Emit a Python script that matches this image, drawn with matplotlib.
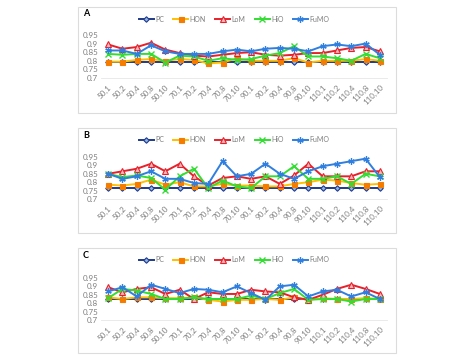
import matplotlib
matplotlib.use("Agg")
import matplotlib.pyplot as plt
from matplotlib.patches import Rectangle

plt.rcParams['font.family'] = ['Lato', 'DejaVu Sans']

categories = ["50,1", "50,2", "50,4", "50,8", "50,10",
              "70,1", "70,2", "70,4", "70,8", "70,10",
              "90,1", "90,2", "90,4", "90,8", "90,10",
              "110,1", "110,2", "110,4", "110,8", "110,10"]
series_names = ["PC", "HON", "LoM", "HiO", "FuMO"]
y_ticks = [0.7, 0.75, 0.8, 0.85, 0.9, 0.95]
y_tick_labels = ["0.7", "0.75", "0.8", "0.85", "0.9", "0.95"]

# panel A
pc_a = [0.795] * 20
hon_a = [0.795, 0.795, 0.805, 0.81, 0.80, 0.81, 0.805, 0.785, 0.79, 0.815,
         0.80, 0.80, 0.80, 0.815, 0.79, 0.80, 0.80, 0.80, 0.81, 0.80]
lom_a = [0.895, 0.87, 0.88, 0.905, 0.865, 0.845, 0.83, 0.825, 0.835, 0.845,
         0.85, 0.835, 0.83, 0.835, 0.845, 0.845, 0.86, 0.875, 0.88, 0.855]
hio_a = [0.84, 0.835, 0.84, 0.84, 0.79, 0.83, 0.825, 0.80, 0.815, 0.805,
         0.81, 0.83, 0.845, 0.885, 0.825, 0.825, 0.815, 0.80, 0.84, 0.815]
fumo_a = [0.86, 0.86, 0.84, 0.89, 0.855, 0.84, 0.84, 0.84, 0.855, 0.865,
          0.855, 0.87, 0.875, 0.87, 0.855, 0.885, 0.895, 0.885, 0.90, 0.835]

# panel B
pc_b = [0.765] * 20
hon_b = [0.785, 0.78, 0.79, 0.815, 0.785, 0.80, 0.775, 0.775, 0.79, 0.78,
         0.78, 0.775, 0.775, 0.79, 0.80, 0.815, 0.81, 0.795, 0.785, 0.79]
lom_b = [0.85, 0.865, 0.88, 0.91, 0.865, 0.91, 0.835, 0.78, 0.825, 0.835,
         0.82, 0.835, 0.79, 0.84, 0.91, 0.835, 0.835, 0.835, 0.865, 0.865]
hio_b = [0.85, 0.83, 0.84, 0.825, 0.755, 0.835, 0.88, 0.765, 0.81, 0.775,
         0.765, 0.835, 0.835, 0.895, 0.82, 0.82, 0.835, 0.79, 0.85, 0.835]
fumo_b = [0.85, 0.82, 0.835, 0.865, 0.82, 0.82, 0.795, 0.79, 0.925, 0.835,
          0.85, 0.91, 0.85, 0.82, 0.865, 0.895, 0.91, 0.925, 0.94, 0.83]

# panel C
pc_c = [0.825] * 20
hon_c = [0.835, 0.825, 0.835, 0.835, 0.83, 0.83, 0.835, 0.82, 0.81, 0.82,
         0.82, 0.825, 0.82, 0.835, 0.82, 0.83, 0.825, 0.825, 0.83, 0.825]
lom_c = [0.895, 0.865, 0.885, 0.895, 0.855, 0.88, 0.825, 0.865, 0.855, 0.855,
         0.88, 0.87, 0.865, 0.835, 0.82, 0.85, 0.885, 0.91, 0.885, 0.855]
hio_c = [0.83, 0.885, 0.875, 0.855, 0.825, 0.825, 0.835, 0.825, 0.825, 0.825,
         0.845, 0.825, 0.86, 0.885, 0.82, 0.825, 0.825, 0.81, 0.825, 0.825]
fumo_c = [0.87, 0.895, 0.84, 0.91, 0.885, 0.86, 0.885, 0.88, 0.865, 0.90,
          0.86, 0.82, 0.90, 0.91, 0.84, 0.87, 0.88, 0.84, 0.865, 0.825]

panels = [("A", [pc_a, hon_a, lom_a, hio_a, fumo_a]),
          ("B", [pc_b, hon_b, lom_b, hio_b, fumo_b]),
          ("C", [pc_c, hon_c, lom_c, hio_c, fumo_c])]

styles = [
    dict(color="#1f3a8a", marker="D", ms=2.8, mfc="#8fb4e3", mec="#1f3a8a", mew=0.8),
    dict(color="#ffc000", marker="s", ms=3.6, mfc="#f47c00", mec="#f47c00", mew=0.8),
    dict(color="#e8202a", marker="^", ms=3.8, mfc="#f6b8bb", mec="#e8202a", mew=0.8),
    dict(color="#33dd33", marker="x", ms=3.8, mfc="#33dd33", mec="#33dd33", mew=1.0),
    dict(color="#2f7fe0", marker=(6, 2, 0), ms=4.6, mfc="#2f7fe0", mec="#2f7fe0", mew=0.9),
]

W, H = 474, 364
fig = plt.figure(figsize=(W / 100, H / 100), dpi=100)
fig.patch.set_facecolor("white")

# (box top px, box bottom px, axis top px, axis bottom px)
layout = [(7, 113, 35, 78), (128, 233, 157, 199), (248, 353, 278, 320)]

for (label, data), (bt, bb, at, ab) in zip(panels, layout):
    fig.patches.append(Rectangle((78 / W, 1 - bb / H), (396 - 78) / W, (bb - bt) / H,
                                 transform=fig.transFigure, facecolor="white",
                                 edgecolor="#dcdcdc", linewidth=0.8, zorder=-5))
    fig.text(83 / W, 1 - (bt + 7) / H, label, fontsize=6.5, fontweight="bold",
             ha="left", va="center")

    ax = fig.add_axes([101 / W, 1 - ab / H, (387 - 101) / W, (ab - at) / H])
    ax.set_facecolor("none")
    x = list(range(len(categories)))
    handles = []
    for name, vals, st in zip(series_names, data, styles):
        h, = ax.plot(x, vals, lw=1.4, label=name, clip_on=False, **st)
        handles.append(h)
    ax.set_xlim(-0.5, len(categories) - 0.5)
    ax.set_ylim(0.7, 0.95)
    ax.set_yticks(y_ticks)
    ax.set_yticklabels(y_tick_labels)
    ax.set_xticks(x)
    ax.set_xticklabels(categories, rotation=45, ha="right", rotation_mode="anchor")
    ax.tick_params(axis="both", length=0, labelsize=5.8, colors="#7f7f7f", pad=2)
    ax.tick_params(axis="x", pad=4)
    for side in ["top", "right", "left"]:
        ax.spines[side].set_visible(False)
    ax.spines["bottom"].set_color("#e6e6e6")
    ax.spines["bottom"].set_linewidth(0.6)

    fig.legend(handles=handles, loc="center", ncol=5,
               bbox_to_anchor=(234 / W, 1 - (bt + 12) / H), frameon=False,
               fontsize=5.0, handlelength=2.2, columnspacing=1.3,
               handletextpad=0.2, labelcolor="#7f7f7f")

fig.savefig("out.png", dpi=100, facecolor="white")
